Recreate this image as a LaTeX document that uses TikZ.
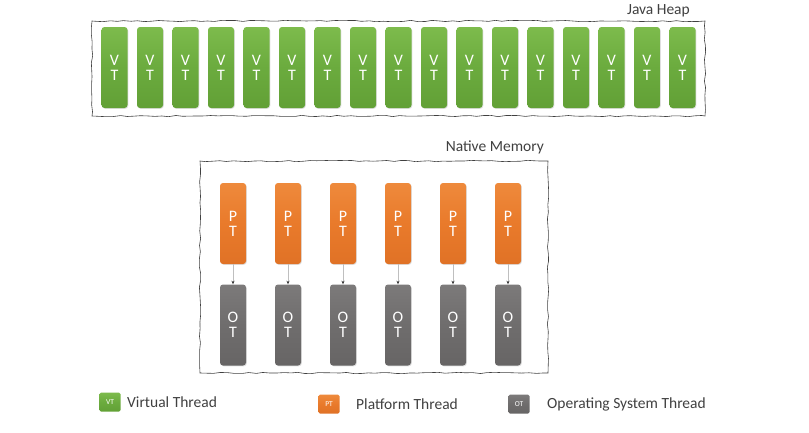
\documentclass[tikz,border=0pt]{standalone}
\usepackage{fontspec}
\setmainfont{Carlito}
\usepackage{tikz}
\usetikzlibrary{arrows.meta,decorations.pathmorphing,positioning,shadows}

\definecolor{vtmain}{HTML}{6BAB3E}
\definecolor{vtlight}{HTML}{7DBB4C}
\definecolor{vtdark}{HTML}{62A036}
\definecolor{ptmain}{HTML}{E97A2B}
\definecolor{ptlight}{HTML}{EE8A3C}
\definecolor{ptdark}{HTML}{E07226}
\definecolor{otmain}{HTML}{6F6D6D}
\definecolor{otlight}{HTML}{7C7A7A}
\definecolor{otdark}{HTML}{676565}
\definecolor{labeltext}{HTML}{404040}

\tikzset{
  thread/.style={rounded corners=3pt, minimum width=26pt, minimum height=81pt,
    align=center, text=white, font=\fontsize{16}{15}\selectfont,
    drop shadow={shadow xshift=0.8pt, shadow yshift=-0.8pt, opacity=0.25}},
  vtbox/.style={thread, top color=vtlight, bottom color=vtdark, middle color=vtmain},
  ptbox/.style={thread, top color=ptlight, bottom color=ptdark, middle color=ptmain},
  otbox/.style={thread, top color=otlight, bottom color=otdark, middle color=otmain},
  keybox/.style={rounded corners=1.5pt, minimum width=21pt, minimum height=19pt,
    inner sep=0pt, text=white, font=\fontsize{7.5}{7.5}\selectfont},
  sketch/.style={draw=black!75, line width=0.6pt,
    decorate, decoration={random steps, segment length=7pt, amplitude=0.7pt}},
  caption/.style={text=labeltext, font=\fontsize{15.5}{15.5}\selectfont, inner sep=0pt},
  keytext/.style={text=labeltext, font=\fontsize{15.5}{15.5}\selectfont, inner sep=0pt, anchor=west},
  link/.style={draw=black!25, line width=0.8pt, -{Stealth[black!80, length=3.5pt, width=3pt]}}
}

\begin{document}
\begin{tikzpicture}[x=1pt, y=1pt]
	\useasboundingbox (0,0) rectangle (809,-432); % Rand wie Vorlage
	
	% Java Heap
	\draw[sketch] (92,-21) rectangle (705,-116);
	\node[caption, anchor=east] (heap) at (690,-11) {Java Heap};
	\foreach \i in {1,...,17}
		\node[vtbox] (vt\i) at ({114.5+35.5*(\i-1)},-67.5) {V\\T};
	
	% Native Memory
	\draw[sketch] (200,-161) rectangle (548,-373);
	\node[caption, anchor=east] (native) at (544,-147) {Native Memory};
	\foreach \i in {1,...,6}{
		\node[ptbox] (pt\i) at ({233+55*(\i-1)},-223.5) {P\\T};
		\node[otbox] (ot\i) at ({233+55*(\i-1)},-325) {O\\T};
		\draw[link] (pt\i) -- (ot\i);
	}
	
	% Legende
	\node[keybox, top color=vtlight, bottom color=vtdark, middle color=vtmain] (keyvt) at (110,-402) {VT};
	\node[keytext] (txtvt) at (127,-402) {Virtual Thread};
	\node[keybox, top color=ptlight, bottom color=ptdark, middle color=ptmain] (keypt) at (329,-404) {PT};
	\node[keytext] (txtpt) at (356,-404) {Platform Thread};
	\node[keybox, top color=otlight, bottom color=otdark, middle color=otmain] (keyot) at (519,-404) {OT};
	\node[keytext] (txtot) at (547,-404) {Operating System Thread};
\end{tikzpicture}
\end{document}
